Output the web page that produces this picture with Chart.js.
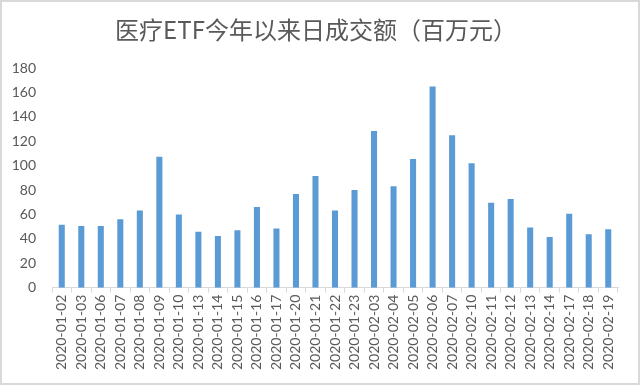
<!DOCTYPE html>
<html><head><meta charset="utf-8">
<script src="https://cdn.jsdelivr.net/npm/chart.js@4/dist/chart.umd.min.js"></script>
<style>
html,body{margin:0;padding:0;background:#fff;}
#wrap{width:640px;height:385px;box-sizing:border-box;border:2px solid #d9d9d9;position:relative;background:#fff;}
canvas{display:block;}
</style></head>
<body><div id="wrap"><canvas id="c" width="636" height="381"></canvas></div>
<script>
const titleText = "医疗ETF今年以来日成交额（百万元）";
const categories = ["2020-01-02","2020-01-03","2020-01-06","2020-01-07","2020-01-08","2020-01-09","2020-01-10","2020-01-13","2020-01-14","2020-01-15","2020-01-16","2020-01-17","2020-01-20","2020-01-21","2020-01-22","2020-01-23","2020-02-03","2020-02-04","2020-02-05","2020-02-06","2020-02-07","2020-02-10","2020-02-11","2020-02-12","2020-02-13","2020-02-14","2020-02-17","2020-02-18","2020-02-19"];
const turnover = [51.5,50.6,50.6,56.1,63.3,107.3,60,45.7,42.4,47.1,66,48.5,76.7,91.5,63.3,80,128.4,83,105.4,164.8,124.9,101.9,69.5,72.6,49.3,41.6,60.5,43.8,47.9];
const yTicks = [0,20,40,60,80,100,120,140,160,180];

const textColor = '#595959';
const titlePlugin = {
  id: 'customTitle',
  afterDraw(chart) {
    const ctx = chart.ctx;
    ctx.save();
    ctx.font = "24px 'Noto Sans CJK SC', sans-serif";
    ctx.fillStyle = textColor;
    ctx.textAlign = 'center';
    ctx.textBaseline = 'middle';
    ctx.fillText(titleText, 314, 28);
    ctx.restore();
  }
};
new Chart(document.getElementById('c'), {
  type: 'bar',
  data: { labels: categories, datasets: [{ data: turnover, backgroundColor: '#5B9BD5', barPercentage: 0.31, categoryPercentage: 1 }] },
  options: {
    responsive: false, animation: false,
    layout: { padding: { left: 0, right: 20, top: 66, bottom: 11 } },
    plugins: { legend: { display: false }, tooltip: { enabled: false }, title: { display: false } },
    scales: {
      x: {
        grid: { display: true, drawOnChartArea: false, offset: true, tickLength: 5, color: '#d9d9d9' },
        border: { display: true, color: '#d9d9d9' },
        ticks: { color: textColor, font: { family: "Lato, 'Open Sans', sans-serif", size: 14 }, minRotation: 90, maxRotation: 90, autoSkip: false, padding: 2 }
      },
      y: {
        min: 0, max: 180,
        afterBuildTicks: s => { s.ticks = yTicks.map(v => ({ value: v })); },
        afterFit: s => { s.width = 50; },
        grid: { display: false },
        border: { display: false },
        ticks: { color: textColor, font: { family: "Lato, 'Open Sans', sans-serif", size: 14 }, padding: 8 }
      }
    }
  },
  plugins: [titlePlugin]
});
</script></body></html>
